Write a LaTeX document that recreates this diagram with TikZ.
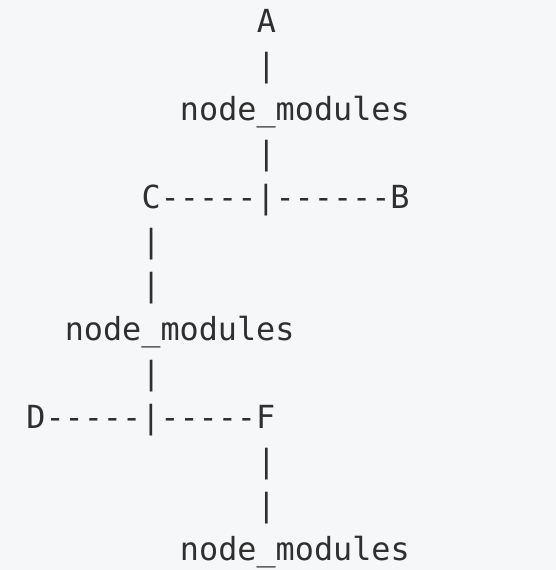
\documentclass[tikz,border=0pt]{standalone}
\usepackage{fontspec}
\setmonofont{DejaVu Sans Mono}
\usepackage{xcolor}
\usepackage{tikz}
\usetikzlibrary{positioning}
\definecolor{pagebg}{HTML}{F6F7F9}
\definecolor{ink}{HTML}{2F2F2F}

\begin{document}
\begin{tikzpicture}[x=9.6pt,y=-22pt,
    code/.style={anchor=base west,inner sep=0pt,text=ink,
      font=\ttfamily\fontsize{15.9}{18}\selectfont}]
    \fill[pagebg] (0pt,0pt) rectangle (278pt,-285pt);

    % one node per line of the tree, column / row
    \begin{scope}[shift={(13pt,-16.3pt)}]
    \foreach \r/\c/\t in {0/12/A,1/12/|,2/8/node\_modules,3/12/|,
        4/6/C-----|------B,5/6/|,6/6/|,7/2/node\_modules,8/6/|,
        9/0/D-----|-----F,10/12/|,11/12/|,12/8/node\_modules}{
        \node[code] (row\r) at (\c,\r) {\t};
    }
    \end{scope}
\end{tikzpicture}
\end{document}
